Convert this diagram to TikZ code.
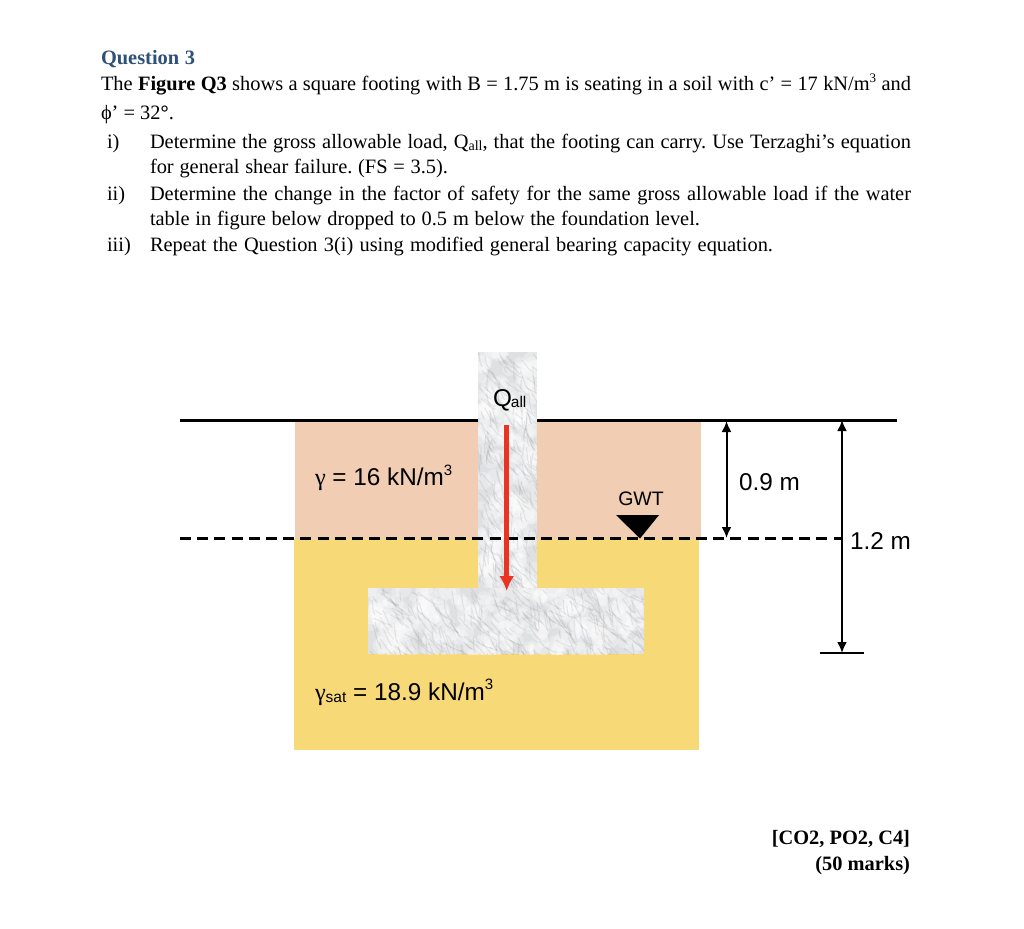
\documentclass[tikz,border=0pt]{standalone}
\usepackage{fontspec}
\setmainfont{Liberation Serif}
\newfontfamily\arialf{Liberation Sans}
\usetikzlibrary{arrows.meta}
\definecolor{peach}{HTML}{F0CDB3}
\definecolor{sand}{HTML}{F7D978}
\definecolor{headblue}{HTML}{2F5078}
\definecolor{marble}{HTML}{DFE0E2}
\definecolor{vein}{HTML}{85878B}
\definecolor{redarrow}{HTML}{EA3323}
\newcommand{\fitline}[2]{\makebox[#1pt][s]{#2}}
\newcommand{\upthree}{\raisebox{0.42em}{\fontsize{13}{13}\selectfont 3}}
\newcommand{\marblefill}[5]{%
  \begin{scope}
    \clip (#1,#2) rectangle (#3,#4);
    \fill[marble] (#1,#2) rectangle (#3,#4);
    \pgfmathsetmacro{\mw}{#3-#1}
    \pgfmathsetmacro{\mh}{#4-#2}
    \pgfmathtruncatemacro{\mn}{\mw/60*\mh}
    \foreach \i in {1,...,\mn}{
      \pgfmathsetmacro{\mx}{#1+rnd*\mw}
      \pgfmathsetmacro{\my}{#2+rnd*\mh}
      \pgfmathsetmacro{\mr}{3+rnd*7}
      \fill[white,opacity=0.28] (\mx,\my) circle (\mr);
    }
    \foreach \i in {1,...,\mn}{
      \pgfmathsetmacro{\mx}{#1+rnd*\mw}
      \pgfmathsetmacro{\my}{#2+rnd*\mh}
      \pgfmathsetmacro{\ma}{#5+rnd*70}
      \pgfmathsetmacro{\ml}{6+rnd*16}
      \draw[vein,line width=1.1pt,opacity=0.16,line cap=round] (\mx,\my) .. controls +(\ma:\ml*0.4) and +(\ma+160:\ml*0.3) .. ++(\ma:\ml);
    }
  \end{scope}}
\tikzset{
  body/.style={anchor=base west,inner sep=0pt,outer sep=0pt,font=\fontsize{20.4}{24}\selectfont\frenchspacing},
  bodybold/.style={body,font=\fontsize{20.4}{24}\selectfont\bfseries\frenchspacing},
  label/.style={inner sep=0pt,outer sep=0pt,anchor=base west,font=\arialf\fontsize{24.3}{28}\selectfont},
  groundline/.style={black,line width=3pt},
  waterline/.style={black,line width=2.4pt,dash pattern=on 11pt off 6.2pt},
  dimarrow/.style={black,line width=2pt,{Latex[length=11pt,width=10pt]}-{Latex[length=11pt,width=10pt]}},
  loadarrow/.style={redarrow,line width=5pt,-{Latex[length=15pt,width=15pt]}}
}
\begin{document}
\begin{tikzpicture}[x=1pt,y=-1pt]
\pgfmathsetseed{4711}
\useasboundingbox (0,0) rectangle (1024,928);
\fill[white] (0,0) rectangle (1024,928);
% question text
\node[bodybold,text=headblue] (title) at (101,65) {\fitline{94}{Question 3}};
\node[body] (l1) at (101,91) {\fitline{810}{The \textbf{Figure Q3} shows a square footing with B = 1.75 m is seating in a soil with c’ = 17 kN/m\upthree{} and}};
\node[body] (l2) at (101,119.5) {ϕ’ = 32\textbf{°}.};
\node[body] (ni) at (107,148.5) {i)};
\node[body] (l3) at (150,148.5) {\fitline{761}{Determine the gross allowable load, Q\raisebox{-0.12em}{\fontsize{14}{14}\selectfont all}, that the footing can carry. Use Terzaghi’s equation}};
\node[body] (l4) at (150,174) {\fitline{298}{for general shear failure. (FS = 3.5).}};
\node[body] (nii) at (107,200) {ii)};
\node[body] (l5) at (150,200) {\fitline{761}{Determine the change in the factor of safety for the same gross allowable load if the water}};
\node[body] (l6) at (150,225.5) {\fitline{550}{table in figure below dropped to 0.5 m below the foundation level.}};
\node[body] (niii) at (107,251) {iii)};
\node[body] (l7) at (150,251) {\fitline{623}{Repeat the Question 3(i) using modified general bearing capacity equation.}};
\node[bodybold,anchor=base east] (co) at (910,844) {[CO2, PO2, C4]};
\node[bodybold,anchor=base east] (marks) at (910,870) {(50 marks)};
% soil
\fill[peach] (295,422) rectangle (701,538.5);
\fill[sand] (294,538.5) rectangle (699,750);
% ground line
\coordinate (gl) at (180,420.7);
\coordinate (gr) at (897,420.7);
\draw[groundline] (gl) -- (gr);
% footing
\marblefill{478}{352}{537}{590}{30}
\marblefill{368}{588}{644}{654}{20}
% water table
\coordinate (wl) at (180,538.5);
\coordinate (wr) at (842,538.5);
\draw[waterline] (wl) -- (wr);
\fill[black] (616,515) -- (659,515) -- (640,538.5) -- cycle;
% load
\coordinate (qa) at (506.7,425);
\coordinate (qb) at (506.7,591);
\draw[loadarrow] (qa) -- (qb);
% dimensions
\coordinate (d1a) at (726.5,421);
\coordinate (d1b) at (726.5,538);
\coordinate (d2a) at (842,420);
\coordinate (d2b) at (842,653);
\coordinate (bl) at (820,652.8);
\coordinate (br) at (864,652.8);
\draw[dimarrow] (d1a) -- (d1b);
\draw[dimarrow] (d2a) -- (d2b);
\draw[black,line width=2pt] (bl) -- (br);
% labels
\node[label] (gamma) at (315,485.5) {{\rmfamily γ} = 16 kN/m\raisebox{0.42em}{\fontsize{15}{15}\selectfont 3}};
\node[label] (gammasat) at (315,700) {{\rmfamily γ}\raisebox{-0.12em}{\fontsize{15.5}{15}\selectfont sat} = 18.9 kN/m\raisebox{0.42em}{\fontsize{15}{15}\selectfont 3}};
\node[label] (qall) at (493,406.5) {Q\kern-1pt\raisebox{-0.05em}{\fontsize{15.5}{15}\selectfont all}};
\node[label,font=\arialf\fontsize{19.5}{22}\selectfont,anchor=base] (gwt) at (641,505) {GWT};
\node[label] (d09) at (739,490) {0.9 m};
\node[label] (d12) at (850,549) {1.2 m};
\end{tikzpicture}
\end{document}
